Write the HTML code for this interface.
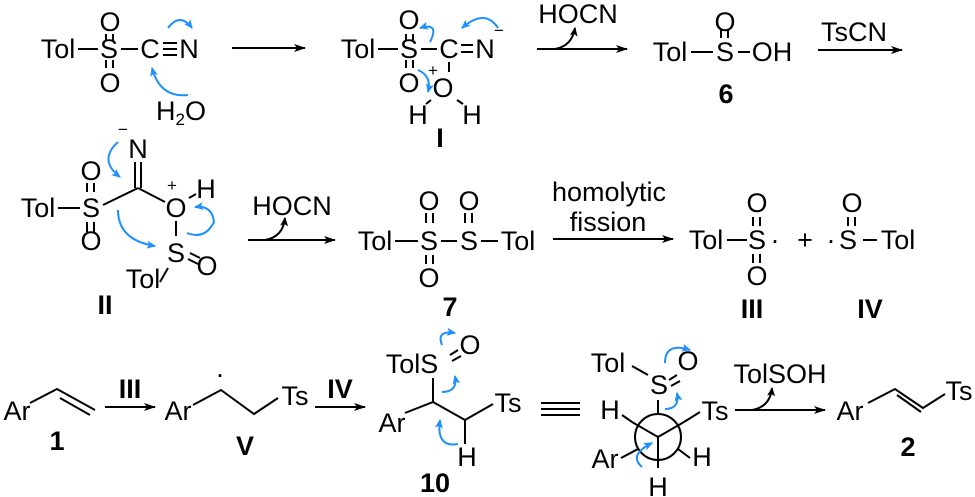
<!DOCTYPE html>
<html><head><meta charset="utf-8"><style>
html,body{margin:0;padding:0;background:#fff}
svg{display:block}
text{font-family:"Liberation Sans",sans-serif;font-size:27px;fill:#000}
.b{font-weight:bold}
.sm{font-size:17px}
</style></head><body>
<svg width="975" height="497" viewBox="0 0 975 497" xmlns="http://www.w3.org/2000/svg">
<defs>
<marker id="ah" markerWidth="12" markerHeight="8" refX="11" refY="4" orient="auto" markerUnits="userSpaceOnUse"><path d="M0,0 L12,4 L0,8 L3,4 Z" fill="#000"/></marker>
<marker id="bh" markerWidth="9" markerHeight="8" refX="8" refY="4" orient="auto" markerUnits="userSpaceOnUse"><path d="M0,0 L9,4 L0,8 L2,4 Z" fill="#1e8fff"/></marker>
<marker id="kh" markerWidth="9" markerHeight="8" refX="8" refY="4" orient="auto" markerUnits="userSpaceOnUse"><path d="M0,0 L9,4 L0,8 L2,4 Z" fill="#000"/></marker>
</defs>
<g stroke="#000" stroke-width="2" fill="none">
<line x1="78" y1="49" x2="98" y2="49"/><line x1="121" y1="49" x2="138" y2="49"/>
<line x1="106" y1="34" x2="106" y2="40"/><line x1="113" y1="34" x2="113" y2="40"/>
<line x1="106" y1="60" x2="106" y2="68"/><line x1="113" y1="60" x2="113" y2="68"/>
<line x1="163" y1="43" x2="177" y2="43"/><line x1="163" y1="49" x2="177" y2="49"/><line x1="163" y1="55" x2="177" y2="55"/>
<line x1="232" y1="48" x2="305" y2="48" marker-end="url(#ah)"/>
<line x1="378" y1="49" x2="398" y2="49"/><line x1="421" y1="49" x2="437" y2="49"/>
<line x1="406" y1="34" x2="406" y2="40"/><line x1="413" y1="34" x2="413" y2="40"/>
<line x1="406" y1="60" x2="406" y2="68"/><line x1="413" y1="60" x2="413" y2="68"/>
<line x1="461" y1="45" x2="473" y2="45"/><line x1="461" y1="52" x2="473" y2="52"/>
<line x1="449" y1="62" x2="449" y2="72"/>
<line x1="431" y1="100" x2="426" y2="104"/><line x1="457" y1="100" x2="463" y2="104"/>
<line x1="537" y1="49" x2="627" y2="49" marker-end="url(#ah)"/>
<path d="M555,49 Q572,46 575,28" marker-end="url(#kh)"/>
<line x1="691" y1="52" x2="713" y2="52"/><line x1="738" y1="52" x2="750" y2="52"/>
<line x1="721" y1="30" x2="721" y2="38"/><line x1="728" y1="30" x2="728" y2="38"/>
<line x1="818" y1="50" x2="902" y2="50" marker-end="url(#ah)"/>
<line x1="58" y1="208" x2="80" y2="208"/>
<line x1="87" y1="183" x2="87" y2="192"/><line x1="94" y1="183" x2="94" y2="192"/>
<line x1="87" y1="222" x2="87" y2="232"/><line x1="94" y1="222" x2="94" y2="232"/>
<line x1="103" y1="205" x2="138" y2="188"/>
<line x1="135" y1="162" x2="135" y2="188"/><line x1="141" y1="162" x2="141" y2="188"/>
<line x1="138" y1="188" x2="165" y2="202"/>
<line x1="189" y1="198" x2="196" y2="194"/>
<line x1="176" y1="221" x2="176" y2="236"/>
<line x1="190" y1="253" x2="200" y2="258"/><line x1="188" y1="259" x2="198" y2="264"/>
<line x1="168" y1="268" x2="160" y2="282"/>
<line x1="248" y1="240" x2="335" y2="240" marker-end="url(#ah)"/>
<path d="M265,240 Q283,237 285,218" marker-end="url(#kh)"/>
<line x1="395" y1="241" x2="418" y2="241"/><line x1="441" y1="241" x2="457" y2="241"/><line x1="481" y1="241" x2="498" y2="241"/>
<line x1="426" y1="213" x2="426" y2="223"/><line x1="433" y1="213" x2="433" y2="223"/>
<line x1="426" y1="255" x2="426" y2="264"/><line x1="433" y1="255" x2="433" y2="264"/>
<line x1="465" y1="213" x2="465" y2="223"/><line x1="472" y1="213" x2="472" y2="223"/>
<line x1="553" y1="239" x2="673" y2="239" marker-end="url(#ah)"/>
<line x1="727" y1="240" x2="747" y2="240"/>
<line x1="753" y1="217" x2="753" y2="226"/><line x1="760" y1="217" x2="760" y2="226"/>
<line x1="753" y1="254" x2="753" y2="263"/><line x1="760" y1="254" x2="760" y2="263"/>
<line x1="848" y1="217" x2="848" y2="226"/><line x1="855" y1="217" x2="855" y2="226"/>
<line x1="863" y1="240" x2="877" y2="240"/>
<path d="M30,403 L57,389 L95,410"/><line x1="60" y1="398" x2="90" y2="415"/>
<line x1="105" y1="407" x2="155" y2="407" marker-end="url(#ah)"/>
<path d="M193,405 L221,390 L254,414 L278,398"/>
<line x1="315" y1="407" x2="365" y2="407" marker-end="url(#ah)"/>
<line x1="433" y1="378" x2="433" y2="402"/>
<path d="M405,413 L433,402 L465,420 L493,404"/>
<line x1="465" y1="420" x2="465" y2="444"/>
<line x1="450" y1="355" x2="458" y2="350"/><line x1="452" y1="361" x2="461" y2="356"/>
<line x1="541" y1="403" x2="580" y2="403"/><line x1="541" y1="409" x2="580" y2="409"/><line x1="541" y1="415" x2="580" y2="415"/>
<circle cx="658" cy="437" r="23"/>
<line x1="658" y1="437" x2="632" y2="422"/><line x1="658" y1="437" x2="684" y2="422"/><line x1="658" y1="437" x2="658" y2="468"/>
<line x1="658" y1="400" x2="658" y2="414"/>
<line x1="638" y1="449" x2="621" y2="458"/><line x1="678" y1="449" x2="690" y2="458"/>
<line x1="684" y1="422" x2="700" y2="412"/><line x1="622" y1="415" x2="632" y2="422"/>
<line x1="632" y1="366" x2="648" y2="375"/>
<line x1="669" y1="380" x2="677" y2="375"/><line x1="671" y1="386" x2="680" y2="381"/>
<line x1="735" y1="410" x2="825" y2="410" marker-end="url(#ah)"/>
<path d="M752,410 Q770,407 772,388" marker-end="url(#kh)"/>
<path d="M868,403 L895,389 L923,408 L945,394"/><line x1="897" y1="395" x2="921" y2="412"/>
</g>
<g stroke="#1e8fff" stroke-width="2" fill="none">
<path d="M168,28 Q180,12 192,28" marker-end="url(#bh)"/>
<path d="M188,95 Q160,98 152,68" marker-end="url(#bh)"/>
<path d="M430,42 Q440,22 420,28" marker-end="url(#bh)"/>
<path d="M498,28 Q485,8 462,28" marker-end="url(#bh)"/>
<path d="M418,70 Q432,76 428,92" marker-end="url(#bh)"/>
<path d="M118,142 Q98,160 120,177" marker-end="url(#bh)"/>
<path d="M118,210 Q118,240 155,246" marker-end="url(#bh)"/>
<path d="M187,233 Q205,240 214,222 Q212,205 195,207" marker-end="url(#bh)"/>
<path d="M442,345 Q436,330 455,333" marker-end="url(#bh)"/>
<path d="M442,392 Q458,392 455,376" marker-end="url(#bh)"/>
<path d="M458,444 Q436,448 440,420" marker-end="url(#bh)"/>
<path d="M665,363 Q665,342 690,350" marker-end="url(#bh)"/>
<path d="M665,409 Q680,409 677,393" marker-end="url(#bh)"/>
<path d="M642,467 Q628,455 652,443" marker-end="url(#bh)"/>
</g>
<g text-anchor="middle">
<text x="58" y="58">Tol</text><text x="109" y="58">S</text><text x="150" y="58">C</text><text x="189" y="58">N</text>
<text x="110" y="31">O</text><text x="110" y="92">O</text>
<text x="181" y="120">H<tspan class="sm" dy="5">2</tspan><tspan dy="-5">O</tspan></text>
<text x="358" y="58">Tol</text><text x="409" y="58">S</text><text x="449" y="58">C</text><text x="485" y="58">N</text>
<text x="409" y="29">O</text><text x="409" y="92">O</text>
<text x="499" y="36" class="sm">−</text><text x="433" y="76" class="sm">+</text>
<text x="443" y="97">O</text><text x="418" y="124">H</text><text x="472" y="124">H</text>
<text x="440" y="147" class="b">I</text>
<text x="578" y="23">HOCN</text>
<text x="670" y="61">Tol</text><text x="725" y="61">S</text><text x="772" y="61">OH</text><text x="725" y="31">O</text>
<text x="726" y="103" class="b">6</text>
<text x="854" y="41">TsCN</text>
<text x="38" y="217">Tol</text><text x="91" y="217">S</text><text x="91" y="180">O</text><text x="91" y="250">O</text>
<text x="138" y="158">N</text><text x="123" y="135" class="sm">−</text>
<text x="172" y="191" class="sm">+</text><text x="176" y="217">O</text><text x="206" y="198">H</text>
<text x="176" y="262">S</text><text x="207" y="275">O</text><text x="143" y="288">Tol</text>
<text x="105" y="314" class="b">II</text>
<text x="292" y="215">HOCN</text>
<text x="375" y="250">Tol</text><text x="429" y="250">S</text><text x="469" y="250">S</text><text x="518" y="250">Tol</text>
<text x="429" y="210">O</text><text x="469" y="210">O</text><text x="429" y="287">O</text>
<text x="450" y="316" class="b">7</text>
<text x="609" y="201">homolytic</text><text x="608" y="231">fission</text>
<text x="706" y="249">Tol</text><text x="757" y="249">S</text><text x="775" y="249">·</text><text x="757" y="212">O</text><text x="757" y="285">O</text>
<text x="805" y="249">+</text><text x="831" y="249">·</text><text x="848" y="249">S</text><text x="898" y="249">Tol</text><text x="852" y="212">O</text>
<text x="752" y="318" class="b">III</text><text x="870" y="318" class="b">IV</text>
<text x="17" y="420">Ar</text><text x="57" y="450" class="b">1</text>
<text x="130" y="398" class="b">III</text>
<text x="178" y="420">Ar</text><text x="220" y="383">·</text><text x="295" y="405">Ts</text>
<text x="245" y="455" class="b">V</text>
<text x="340" y="398" class="b">IV</text>
<text x="412" y="373">TolS</text><text x="470" y="354">O</text>
<text x="392" y="432">Ar</text><text x="508" y="412">Ts</text><text x="467" y="466">H</text>
<text x="435" y="492" class="b">10</text>
<text x="608" y="372">Tol</text><text x="659" y="394">S</text><text x="688" y="370">O</text>
<text x="610" y="419">H</text><text x="715" y="420">Ts</text>
<text x="605" y="468">Ar</text><text x="702" y="466">H</text><text x="658" y="496">H</text>
<text x="780" y="383">TolSOH</text>
<text x="850" y="420">Ar</text><text x="959" y="400">Ts</text>
<text x="908" y="456" class="b">2</text>
</g>
</svg>
</body></html>
